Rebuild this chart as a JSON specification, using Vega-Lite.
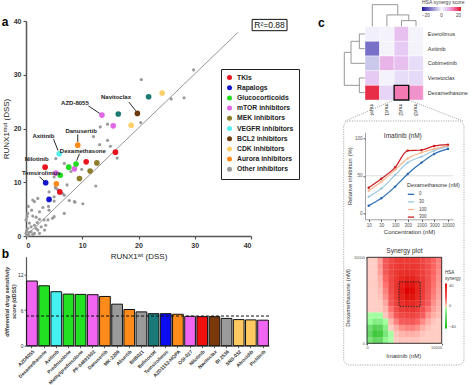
{
"$schema": "https://vega.github.io/schema/vega-lite/v6.json",
"background": "white",
"padding": {"left": 1, "top": 0, "right": 0, "bottom": 0},
"config": {"font": "Liberation Sans", "view": {"stroke": null}, "axis": {"grid": false}},
"datasets": {
"scatter": [
{"x":29.8,"y":30.9,"cls":"Other inhibitors"},{"x":20.5,"y":29.1,"cls":"Other inhibitors"},{"x":25.8,"y":25.5,"cls":"Other inhibitors"},{"x":28.1,"y":25.7,"cls":"Other inhibitors"},{"x":13.2,"y":20.3,"cls":"Other inhibitors"},{"x":14.5,"y":20.8,"cls":"Other inhibitors"},{"x":20.4,"y":21.1,"cls":"Other inhibitors"},{"x":12.0,"y":18.5,"cls":"Other inhibitors"},{"x":14.5,"y":17.8,"cls":"Other inhibitors"},{"x":13.1,"y":17.0,"cls":"Other inhibitors"},{"x":15.0,"y":16.7,"cls":"Other inhibitors"},{"x":16.2,"y":14.5,"cls":"Other inhibitors"},{"x":5.3,"y":14.4,"cls":"Other inhibitors"},{"x":9.9,"y":12.4,"cls":"Other inhibitors"},{"x":6.8,"y":13.5,"cls":"Other inhibitors"},{"x":8.0,"y":12.0,"cls":"Other inhibitors"},{"x":12.4,"y":9.3,"cls":"Other inhibitors"},{"x":5.0,"y":11.0,"cls":"Other inhibitors"},{"x":5.3,"y":8.9,"cls":"Other inhibitors"},{"x":4.1,"y":8.2,"cls":"Other inhibitors"},{"x":5.0,"y":7.3,"cls":"Other inhibitors"},{"x":6.8,"y":7.6,"cls":"Other inhibitors"},{"x":7.7,"y":6.6,"cls":"Other inhibitors"},{"x":8.6,"y":6.4,"cls":"Other inhibitors"},{"x":10.1,"y":6.0,"cls":"Other inhibitors"},{"x":6.8,"y":4.2,"cls":"Other inhibitors"},{"x":3.0,"y":5.3,"cls":"Other inhibitors"},{"x":2.1,"y":7.0,"cls":"Other inhibitors"},{"x":1.2,"y":6.7,"cls":"Other inhibitors"},{"x":1.5,"y":6.4,"cls":"Other inhibitors"},{"x":2.4,"y":4.5,"cls":"Other inhibitors"},{"x":4.1,"y":4.8,"cls":"Other inhibitors"},{"x":4.7,"y":3.3,"cls":"Other inhibitors"},{"x":3.9,"y":3.0,"cls":"Other inhibitors"},{"x":1.8,"y":3.5,"cls":"Other inhibitors"},{"x":2.4,"y":3.1,"cls":"Other inhibitors"},{"x":1.2,"y":3.7,"cls":"Other inhibitors"},{"x":0.6,"y":2.4,"cls":"Other inhibitors"},{"x":0.9,"y":1.7,"cls":"Other inhibitors"},{"x":0.3,"y":1.4,"cls":"Other inhibitors"},{"x":1.5,"y":2.0,"cls":"Other inhibitors"},{"x":1.8,"y":1.4,"cls":"Other inhibitors"},{"x":2.1,"y":1.1,"cls":"Other inhibitors"},{"x":2.7,"y":1.7,"cls":"Other inhibitors"},{"x":0.0,"y":3.0,"cls":"Other inhibitors"},{"x":0.9,"y":0.8,"cls":"Other inhibitors"},{"x":2.4,"y":0.5,"cls":"Other inhibitors"},{"x":3.3,"y":1.1,"cls":"Other inhibitors"},{"x":0.3,"y":4.2,"cls":"Other inhibitors"},{"x":0.6,"y":0.7,"cls":"Other inhibitors"},{"x":1.5,"y":0.5,"cls":"Other inhibitors"},{"x":0.0,"y":0.5,"cls":"Other inhibitors"},{"x":0.5,"y":0.2,"cls":"Other inhibitors"},{"x":1.2,"y":0.3,"cls":"Other inhibitors"},{"x":0.2,"y":0.1,"cls":"Other inhibitors"},{"x":0.1,"y":0.9,"cls":"Other inhibitors"},{"x":3.5,"y":2.0,"cls":"Other inhibitors"},{"x":2.0,"y":2.5,"cls":"Other inhibitors"},{"x":1.0,"y":4.8,"cls":"Other inhibitors"},{"x":0.4,"y":5.5,"cls":"Other inhibitors"},{"x":0.2,"y":3.6,"cls":"Other inhibitors"},{"x":7.3,"y":9.5,"cls":"Other inhibitors"},{"x":5.2,"y":9.1,"cls":"Other inhibitors"},{"x":5.6,"y":8.7,"cls":"Other inhibitors"},{"x":6.5,"y":7.9,"cls":"Other inhibitors"},{"x":4.0,"y":5.5,"cls":"Other inhibitors"},{"x":5.0,"y":3.6,"cls":"Other inhibitors"},{"x":3.2,"y":3.0,"cls":"Other inhibitors"},{"x":5.0,"y":6.5,"cls":"Other inhibitors"},{"x":8.7,"y":6.3,"cls":"Other inhibitors"},
{"x":21.8,"y":25.9,"cls":"HDAC inhibitors"},{"x":16.4,"y":22.7,"cls":"HDAC inhibitors"},
{"x":24.2,"y":26.6,"cls":"CDK inhibitors"},{"x":18.7,"y":20.6,"cls":"CDK inhibitors"},
{"x":13.5,"y":22.5,"cls":"mTOR inhibitors"},{"x":15.5,"y":20.5,"cls":"mTOR inhibitors"},{"x":8.6,"y":12.5,"cls":"mTOR inhibitors"},{"x":5.3,"y":11.7,"cls":"mTOR inhibitors"},
{"x":19.8,"y":22.8,"cls":"BCL2 inhibitors"},
{"x":9.2,"y":16.9,"cls":"Aurora inhibitors"},{"x":5.4,"y":9.7,"cls":"Aurora inhibitors"},
{"x":5.9,"y":15.3,"cls":"VEGFR inhibitors"},
{"x":15.9,"y":15.6,"cls":"TKIs"},{"x":3.4,"y":12.8,"cls":"TKIs"},{"x":10.7,"y":13.8,"cls":"TKIs"},{"x":6.0,"y":8.2,"cls":"TKIs"},
{"x":8.9,"y":13.4,"cls":"Glucocorticoids"},{"x":7.6,"y":12.8,"cls":"Glucocorticoids"},{"x":6.1,"y":11.3,"cls":"Glucocorticoids"},
{"x":12.6,"y":13.6,"cls":"MEK inhibitors"},{"x":11.4,"y":12.1,"cls":"MEK inhibitors"},{"x":9.5,"y":10.7,"cls":"MEK inhibitors"},
{"x":3.5,"y":9.9,"cls":"Rapalogs"},{"x":4.1,"y":6.8,"cls":"Rapalogs"}
],
"labels": [
{"name":"Navitoclax","lx":16.0,"ly":25.9},{"name":"AZD-8055","lx":8.7,"ly":24.8},{"name":"Danusertib","lx":9.8,"ly":19.5},{"name":"Axitinib","lx":3.1,"ly":18.6},{"name":"Dexamethasone","lx":10.1,"ly":15.8},{"name":"Nilotinib","lx":1.9,"ly":14.4},{"name":"Temsirolimus","lx":2.7,"ly":11.7}
],
"leaders": [
{"x1":18.3,"y1":24.9,"x2":19.5,"y2":23.3},{"x1":11.1,"y1":24.2,"x2":13.1,"y2":22.8},{"x1":9.2,"y1":18.9,"x2":9.2,"y2":17.5},{"x1":4.9,"y1":18.0,"x2":5.7,"y2":15.9},{"x1":9.5,"y1":15.3,"x2":9.0,"y2":14.0},{"x1":2.4,"y1":11.0,"x2":3.25,"y2":10.2}
],
"bars": [
{"drug":"AZD8055","dDSS":10.9,"cls":"mTOR inhibitors"},{"drug":"Dexamethasone","dDSS":10.1,"cls":"Glucocorticoids"},{"drug":"Axitinib","dDSS":9.1,"cls":"VEGFR inhibitors"},{"drug":"Prednisolone","dDSS":8.7,"cls":"Glucocorticoids"},{"drug":"Methylprednisolone","dDSS":8.65,"cls":"Glucocorticoids"},{"drug":"PF-04691502","dDSS":8.6,"cls":"mTOR inhibitors"},{"drug":"Danusertib","dDSS":8.3,"cls":"Aurora inhibitors"},{"drug":"MK-2206","dDSS":7.0,"cls":"Other inhibitors"},{"drug":"Alisertib","dDSS":6.1,"cls":"Aurora inhibitors"},{"drug":"BIIB021","dDSS":5.7,"cls":"Other inhibitors"},{"drug":"Belinostat","dDSS":5.4,"cls":"HDAC inhibitors"},{"drug":"Temsirolimus","dDSS":5.4,"cls":"Rapalogs"},{"drug":"AZD1152-HQPA","dDSS":5.3,"cls":"Aurora inhibitors"},{"drug":"OSI-027","dDSS":4.95,"cls":"mTOR inhibitors"},{"drug":"Nilotinib","dDSS":4.9,"cls":"TKIs"},{"drug":"Navitoclax","dDSS":4.9,"cls":"BCL2 inhibitors"},{"drug":"BI 2536","dDSS":4.6,"cls":"Other inhibitors"},{"drug":"SNS-032","dDSS":4.4,"cls":"CDK inhibitors"},{"drug":"Alvocidib","dDSS":4.35,"cls":"CDK inhibitors"},{"drug":"Pictilisib","dDSS":4.3,"cls":"mTOR inhibitors"}
],
"heat": [
{"mut":"mut4","drug":"Everolimus","hsa":1},{"mut":"mut1","drug":"Everolimus","hsa":0.5},{"mut":"mut2","drug":"Everolimus","hsa":6},{"mut":"mut3","drug":"Everolimus","hsa":0.5},
{"mut":"mut4","drug":"Axitinib","hsa":-12},{"mut":"mut1","drug":"Axitinib","hsa":0.5},{"mut":"mut2","drug":"Axitinib","hsa":5},{"mut":"mut3","drug":"Axitinib","hsa":0.5},
{"mut":"mut4","drug":"Cobimetinib","hsa":-4},{"mut":"mut1","drug":"Cobimetinib","hsa":7},{"mut":"mut2","drug":"Cobimetinib","hsa":6},{"mut":"mut3","drug":"Cobimetinib","hsa":3},
{"mut":"mut4","drug":"Venetoclax","hsa":5},{"mut":"mut1","drug":"Venetoclax","hsa":0.5},{"mut":"mut2","drug":"Venetoclax","hsa":3},{"mut":"mut3","drug":"Venetoclax","hsa":3.5},
{"mut":"mut4","drug":"Dexamethasone","hsa":18},{"mut":"mut1","drug":"Dexamethasone","hsa":4},{"mut":"mut2","drug":"Dexamethasone","hsa":12},{"mut":"mut3","drug":"Dexamethasone","hsa":10}
],
"dendro": [
{"x":2.5,"y":0,"x2":2.5,"y2":-0.41},{"x":3.5,"y":0,"x2":3.5,"y2":-0.41},{"x":2.5,"y":-0.41,"x2":3.5,"y2":-0.41},
{"x":1.5,"y":0,"x2":1.5,"y2":-0.8},{"x":3.0,"y":-0.41,"x2":3.0,"y2":-0.8},{"x":1.5,"y":-0.8,"x2":3.0,"y2":-0.8},
{"x":0.5,"y":0,"x2":0.5,"y2":-1.5},{"x":2.25,"y":-0.8,"x2":2.25,"y2":-1.5},{"x":0.5,"y":-1.5,"x2":2.25,"y2":-1.5},
{"x":-0.39,"y":0.5,"x2":-0.39,"y2":1.5},{"x":-0.39,"y":0.5,"x2":0,"y2":0.5},{"x":-0.39,"y":1.5,"x2":0,"y2":1.5},
{"x":-0.96,"y":1.0,"x2":-0.96,"y2":2.5},{"x":-0.96,"y":1.0,"x2":-0.39,"y2":1.0},{"x":-0.96,"y":2.5,"x2":0,"y2":2.5},
{"x":-0.39,"y":3.5,"x2":-0.39,"y2":4.5},{"x":-0.39,"y":3.5,"x2":0,"y2":3.5},{"x":-0.39,"y":4.5,"x2":0,"y2":4.5},
{"x":-1.42,"y":1.75,"x2":-1.42,"y2":4.0},{"x":-1.42,"y":1.75,"x2":-0.96,"y2":1.75},{"x":-1.42,"y":4.0,"x2":-0.39,"y2":4.0}
],
"zoomlines": [
{"x":2,"y":5,"x2":-1.42,"y2":6.46},{"x":3,"y":5,"x2":6.79,"y2":6.46}
],
"curves": [
{"conc":10,"inh":10.2,"dex":"0"},{"conc":30,"inh":20,"dex":"0"},{"conc":100,"inh":35.6,"dex":"0"},{"conc":300,"inh":52.4,"dex":"0"},{"conc":1000,"inh":67.6,"dex":"0"},{"conc":3000,"inh":79.1,"dex":"0"},{"conc":10000,"inh":85.8,"dex":"0"},
{"conc":10,"inh":22,"dex":"30"},{"conc":30,"inh":33,"dex":"30"},{"conc":100,"inh":51,"dex":"30"},{"conc":300,"inh":67.6,"dex":"30"},{"conc":1000,"inh":75.6,"dex":"30"},{"conc":3000,"inh":83.6,"dex":"30"},{"conc":10000,"inh":88.9,"dex":"30"},
{"conc":10,"inh":30,"dex":"100"},{"conc":30,"inh":42,"dex":"100"},{"conc":100,"inh":58,"dex":"100"},{"conc":300,"inh":73,"dex":"100"},{"conc":1000,"inh":81,"dex":"100"},{"conc":3000,"inh":86,"dex":"100"},{"conc":10000,"inh":90,"dex":"100"},
{"conc":10,"inh":34.2,"dex":"300"},{"conc":30,"inh":46.2,"dex":"300"},{"conc":100,"inh":61.3,"dex":"300"},{"conc":300,"inh":83.6,"dex":"300"},{"conc":1000,"inh":84.4,"dex":"300"},{"conc":3000,"inh":89.8,"dex":"300"},{"conc":10000,"inh":91.6,"dex":"300"}
],
"syn": [
{"cy":6.75,"cx":0.25,"v":0},{"cy":6.75,"cx":0.75,"v":0},{"cy":6.75,"cx":1.25,"v":6},{"cy":6.75,"cx":1.75,"v":16},{"cy":6.75,"cx":2.25,"v":23},{"cy":6.75,"cx":2.75,"v":26},{"cy":6.75,"cx":3.25,"v":27},{"cy":6.75,"cx":3.75,"v":27},{"cy":6.75,"cx":4.25,"v":27},{"cy":6.75,"cx":4.75,"v":26},{"cy":6.75,"cx":5.25,"v":23},{"cy":6.75,"cx":5.75,"v":19},{"cy":6.75,"cx":6.25,"v":14},{"cy":6.75,"cx":6.75,"v":10},
{"cy":6.25,"cx":0.25,"v":0},{"cy":6.25,"cx":0.75,"v":0},{"cy":6.25,"cx":1.25,"v":7},{"cy":6.25,"cx":1.75,"v":17},{"cy":6.25,"cx":2.25,"v":24},{"cy":6.25,"cx":2.75,"v":27},{"cy":6.25,"cx":3.25,"v":29},{"cy":6.25,"cx":3.75,"v":29},{"cy":6.25,"cx":4.25,"v":29},{"cy":6.25,"cx":4.75,"v":28},{"cy":6.25,"cx":5.25,"v":25},{"cy":6.25,"cx":5.75,"v":20},{"cy":6.25,"cx":6.25,"v":14},{"cy":6.25,"cx":6.75,"v":10},
{"cy":5.75,"cx":0.25,"v":0},{"cy":5.75,"cx":0.75,"v":0},{"cy":5.75,"cx":1.25,"v":6},{"cy":5.75,"cx":1.75,"v":16},{"cy":5.75,"cx":2.25,"v":24},{"cy":5.75,"cx":2.75,"v":28},{"cy":5.75,"cx":3.25,"v":31},{"cy":5.75,"cx":3.75,"v":32},{"cy":5.75,"cx":4.25,"v":31},{"cy":5.75,"cx":4.75,"v":29},{"cy":5.75,"cx":5.25,"v":26},{"cy":5.75,"cx":5.75,"v":20},{"cy":5.75,"cx":6.25,"v":14},{"cy":5.75,"cx":6.75,"v":9},
{"cy":5.25,"cx":0.25,"v":0},{"cy":5.25,"cx":0.75,"v":0},{"cy":5.25,"cx":1.25,"v":4},{"cy":5.25,"cx":1.75,"v":14},{"cy":5.25,"cx":2.25,"v":23},{"cy":5.25,"cx":2.75,"v":29},{"cy":5.25,"cx":3.25,"v":33},{"cy":5.25,"cx":3.75,"v":35},{"cy":5.25,"cx":4.25,"v":34},{"cy":5.25,"cx":4.75,"v":31},{"cy":5.25,"cx":5.25,"v":27},{"cy":5.25,"cx":5.75,"v":20},{"cy":5.25,"cx":6.25,"v":13},{"cy":5.25,"cx":6.75,"v":8},
{"cy":4.75,"cx":0.25,"v":0},{"cy":4.75,"cx":0.75,"v":0},{"cy":4.75,"cx":1.25,"v":3},{"cy":4.75,"cx":1.75,"v":12},{"cy":4.75,"cx":2.25,"v":22},{"cy":4.75,"cx":2.75,"v":29},{"cy":4.75,"cx":3.25,"v":35},{"cy":4.75,"cx":3.75,"v":38},{"cy":4.75,"cx":4.25,"v":37},{"cy":4.75,"cx":4.75,"v":33},{"cy":4.75,"cx":5.25,"v":27},{"cy":4.75,"cx":5.75,"v":19},{"cy":4.75,"cx":6.25,"v":12},{"cy":4.75,"cx":6.75,"v":7},
{"cy":4.25,"cx":0.25,"v":0},{"cy":4.25,"cx":0.75,"v":0},{"cy":4.25,"cx":1.25,"v":2},{"cy":4.25,"cx":1.75,"v":10},{"cy":4.25,"cx":2.25,"v":21},{"cy":4.25,"cx":2.75,"v":29},{"cy":4.25,"cx":3.25,"v":36},{"cy":4.25,"cx":3.75,"v":40},{"cy":4.25,"cx":4.25,"v":39},{"cy":4.25,"cx":4.75,"v":34},{"cy":4.25,"cx":5.25,"v":27},{"cy":4.25,"cx":5.75,"v":18},{"cy":4.25,"cx":6.25,"v":11},{"cy":4.25,"cx":6.75,"v":6},
{"cy":3.75,"cx":0.25,"v":0},{"cy":3.75,"cx":0.75,"v":0},{"cy":3.75,"cx":1.25,"v":1},{"cy":3.75,"cx":1.75,"v":8},{"cy":3.75,"cx":2.25,"v":19},{"cy":3.75,"cx":2.75,"v":28},{"cy":3.75,"cx":3.25,"v":34},{"cy":3.75,"cx":3.75,"v":38},{"cy":3.75,"cx":4.25,"v":37},{"cy":3.75,"cx":4.75,"v":33},{"cy":3.75,"cx":5.25,"v":26},{"cy":3.75,"cx":5.75,"v":17},{"cy":3.75,"cx":6.25,"v":10},{"cy":3.75,"cx":6.75,"v":5},
{"cy":3.25,"cx":0.25,"v":0},{"cy":3.25,"cx":0.75,"v":0},{"cy":3.25,"cx":1.25,"v":0},{"cy":3.25,"cx":1.75,"v":5},{"cy":3.25,"cx":2.25,"v":16},{"cy":3.25,"cx":2.75,"v":25},{"cy":3.25,"cx":3.25,"v":31},{"cy":3.25,"cx":3.75,"v":34},{"cy":3.25,"cx":4.25,"v":33},{"cy":3.25,"cx":4.75,"v":30},{"cy":3.25,"cx":5.25,"v":23},{"cy":3.25,"cx":5.75,"v":15},{"cy":3.25,"cx":6.25,"v":8},{"cy":3.25,"cx":6.75,"v":4},
{"cy":2.75,"cx":0.25,"v":0},{"cy":2.75,"cx":0.75,"v":0},{"cy":2.75,"cx":1.25,"v":0},{"cy":2.75,"cx":1.75,"v":3},{"cy":2.75,"cx":2.25,"v":12},{"cy":2.75,"cx":2.75,"v":21},{"cy":2.75,"cx":3.25,"v":27},{"cy":2.75,"cx":3.75,"v":29},{"cy":2.75,"cx":4.25,"v":29},{"cy":2.75,"cx":4.75,"v":26},{"cy":2.75,"cx":5.25,"v":20},{"cy":2.75,"cx":5.75,"v":12},{"cy":2.75,"cx":6.25,"v":6},{"cy":2.75,"cx":6.75,"v":3},
{"cy":2.25,"cx":0.25,"v":-2},{"cy":2.25,"cx":0.75,"v":-3},{"cy":2.25,"cx":1.25,"v":-2},{"cy":2.25,"cx":1.75,"v":1},{"cy":2.25,"cx":2.25,"v":8},{"cy":2.25,"cx":2.75,"v":16},{"cy":2.25,"cx":3.25,"v":22},{"cy":2.25,"cx":3.75,"v":24},{"cy":2.25,"cx":4.25,"v":24},{"cy":2.25,"cx":4.75,"v":21},{"cy":2.25,"cx":5.25,"v":15},{"cy":2.25,"cx":5.75,"v":8},{"cy":2.25,"cx":6.25,"v":4},{"cy":2.25,"cx":6.75,"v":2},
{"cy":1.75,"cx":0.25,"v":-6},{"cy":1.75,"cx":0.75,"v":-11},{"cy":1.75,"cx":1.25,"v":-10},{"cy":1.75,"cx":1.75,"v":-3},{"cy":1.75,"cx":2.25,"v":3},{"cy":1.75,"cx":2.75,"v":10},{"cy":1.75,"cx":3.25,"v":15},{"cy":1.75,"cx":3.75,"v":17},{"cy":1.75,"cx":4.25,"v":17},{"cy":1.75,"cx":4.75,"v":14},{"cy":1.75,"cx":5.25,"v":9},{"cy":1.75,"cx":5.75,"v":4},{"cy":1.75,"cx":6.25,"v":1},{"cy":1.75,"cx":6.75,"v":0},
{"cy":1.25,"cx":0.25,"v":-15},{"cy":1.25,"cx":0.75,"v":-25},{"cy":1.25,"cx":1.25,"v":-23},{"cy":1.25,"cx":1.75,"v":-10},{"cy":1.25,"cx":2.25,"v":0},{"cy":1.25,"cx":2.75,"v":4},{"cy":1.25,"cx":3.25,"v":8},{"cy":1.25,"cx":3.75,"v":10},{"cy":1.25,"cx":4.25,"v":10},{"cy":1.25,"cx":4.75,"v":8},{"cy":1.25,"cx":5.25,"v":4},{"cy":1.25,"cx":5.75,"v":1},{"cy":1.25,"cx":6.25,"v":0},{"cy":1.25,"cx":6.75,"v":0},
{"cy":0.75,"cx":0.25,"v":-19},{"cy":0.75,"cx":0.75,"v":-31},{"cy":0.75,"cx":1.25,"v":-29},{"cy":0.75,"cx":1.75,"v":-13},{"cy":0.75,"cx":2.25,"v":-2},{"cy":0.75,"cx":2.75,"v":1},{"cy":0.75,"cx":3.25,"v":3},{"cy":0.75,"cx":3.75,"v":4},{"cy":0.75,"cx":4.25,"v":4},{"cy":0.75,"cx":4.75,"v":3},{"cy":0.75,"cx":5.25,"v":1},{"cy":0.75,"cx":5.75,"v":0},{"cy":0.75,"cx":6.25,"v":0},{"cy":0.75,"cx":6.75,"v":0},
{"cy":0.25,"cx":0.25,"v":-13},{"cy":0.25,"cx":0.75,"v":-21},{"cy":0.25,"cx":1.25,"v":-19},{"cy":0.25,"cx":1.75,"v":-8},{"cy":0.25,"cx":2.25,"v":-1},{"cy":0.25,"cx":2.75,"v":0},{"cy":0.25,"cx":3.25,"v":1},{"cy":0.25,"cx":3.75,"v":1},{"cy":0.25,"cx":4.25,"v":1},{"cy":0.25,"cx":4.75,"v":1},{"cy":0.25,"cx":5.25,"v":0},{"cy":0.25,"cx":5.75,"v":0},{"cy":0.25,"cx":6.25,"v":0},{"cy":0.25,"cx":6.75,"v":0}
]
},
"hconcat": [
{
"vconcat": [
{
"width": 225, "height": 215,
"layer": [
{"data": {"values": [{}]}, "mark": {"type": "rule", "color": "#8a8a8a", "strokeWidth": 0.9}, "encoding": {"x": {"datum": 0, "type": "quantitative", "scale": {"domain": [0, 40], "nice": false}}, "y": {"datum": 0, "type": "quantitative", "scale": {"domain": [0, 40], "nice": false}}, "x2": {"datum": 37.7}, "y2": {"datum": 37.9}}},
{"data": {"name": "scatter"}, "transform": [{"filter": "datum.cls === 'Other inhibitors'"}], "mark": {"type": "point", "filled": true, "size": 10, "opacity": 1},
 "encoding": {
  "x": {"field": "x", "type": "quantitative", "scale": {"domain": [0, 40], "nice": false}, "axis": {"values": [0, 10, 20, 30, 40], "title": "RUNX1ʷᵗ (DSS)", "titleFontSize": 8, "titleFontWeight": "normal", "titleColor": "#222", "titlePadding": 4, "labelFontSize": 7, "labelFontWeight": "bold", "labelColor": "#333", "domainColor": "#555", "domainWidth": 1.5, "tickColor": "#555", "tickSize": 3, "tickWidth": 1.2}},
  "y": {"field": "y", "type": "quantitative", "scale": {"domain": [0, 40], "nice": false}, "axis": {"values": [0, 10, 20, 30, 40], "title": "RUNX1ᵐᵘᵗ (DSS)", "titleFontSize": 8, "titleFontWeight": "normal", "titleColor": "#222", "titlePadding": 3, "labelFontSize": 7, "labelFontWeight": "bold", "labelColor": "#333", "domainColor": "#555", "domainWidth": 1.5, "tickColor": "#555", "tickSize": 3, "tickWidth": 1.2}},
  "color": {"field": "cls", "type": "nominal",
   "scale": {"domain": ["TKIs", "Rapalogs", "Glucocorticoids", "mTOR inhibitors", "MEK inhibitors", "VEGFR inhibitors", "BCL2 inhibitors", "CDK inhibitors", "Aurora inhibitors", "Other inhibitors", "HDAC inhibitors"],
    "range": ["#e8131f", "#1515d0", "#22dd22", "#e066e6", "#8b7d2a", "#55eeee", "#6b3a10", "#ffcf6a", "#ff8c1a", "#9a9a9a", "#1a7a70"]},
   "legend": {"title": null, "orient": "none", "legendX": 195, "legendY": 48, "values": ["TKIs", "Rapalogs", "Glucocorticoids", "mTOR inhibitors", "MEK inhibitors", "VEGFR inhibitors", "BCL2 inhibitors", "CDK inhibitors", "Aurora inhibitors", "Other inhibitors"], "labelFontSize": 6.8, "labelFontWeight": "bold", "labelColor": "#222", "symbolSize": 25, "symbolType": "circle", "rowPadding": 2.2, "strokeColor": "#222", "padding": 5, "labelOffset": 4, "labelLimit": 200}}
 }},
{"data": {"name": "scatter"}, "transform": [{"filter": "datum.cls !== 'Other inhibitors'"}], "mark": {"type": "point", "filled": true, "size": 32, "opacity": 1},
 "encoding": {"x": {"field": "x", "type": "quantitative", "scale": {"domain": [0, 40], "nice": false}}, "y": {"field": "y", "type": "quantitative", "scale": {"domain": [0, 40], "nice": false}}, "color": {"field": "cls", "type": "nominal"}}},
{"data": {"name": "leaders"}, "mark": {"type": "rule", "color": "#111", "strokeWidth": 0.9}, "encoding": {"x": {"field": "x1", "type": "quantitative", "scale": {"domain": [0, 40], "nice": false}}, "y": {"field": "y1", "type": "quantitative", "scale": {"domain": [0, 40], "nice": false}}, "x2": {"field": "x2"}, "y2": {"field": "y2"}}},
{"data": {"name": "labels"}, "mark": {"type": "text", "fontSize": 6, "fontWeight": "bold", "color": "#222"}, "encoding": {"x": {"field": "lx", "type": "quantitative", "scale": {"domain": [0, 40], "nice": false}}, "y": {"field": "ly", "type": "quantitative", "scale": {"domain": [0, 40], "nice": false}}, "text": {"field": "name"}}},
{"data": {"values": [{}]}, "mark": {"type": "rect", "fillOpacity": 0, "stroke": "#111", "strokeWidth": 1}, "encoding": {"x": {"datum": 40.2, "type": "quantitative", "scale": {"domain": [0, 40], "nice": false}}, "x2": {"datum": 46.4}, "y": {"datum": 40.3, "type": "quantitative", "scale": {"domain": [0, 40], "nice": false}}, "y2": {"datum": 38.2}}},
{"data": {"values": [{}]}, "mark": {"type": "text", "fontSize": 8.5, "text": "R²=0.88", "color": "#111"}, "encoding": {"x": {"datum": 43.3, "type": "quantitative", "scale": {"domain": [0, 40], "nice": false}}, "y": {"datum": 39.25, "type": "quantitative", "scale": {"domain": [0, 40], "nice": false}}}},
{"data": {"values": [{}]}, "mark": {"type": "text", "fontSize": 12, "fontWeight": "bold", "text": "a", "align": "left", "baseline": "middle"}, "encoding": {"x": {"datum": -4.3, "type": "quantitative", "scale": {"domain": [0, 40], "nice": false}}, "y": {"datum": 39.8, "type": "quantitative", "scale": {"domain": [0, 40], "nice": false}}}},
{"data": {"values": [{}]}, "mark": {"type": "text", "fontSize": 12, "fontWeight": "bold", "text": "b", "align": "left", "baseline": "middle"}, "encoding": {"x": {"datum": -4.3, "type": "quantitative", "scale": {"domain": [0, 40], "nice": false}}, "y": {"datum": -3.4, "type": "quantitative", "scale": {"domain": [0, 40], "nice": false}}}}
]
},
{
"width": 243, "height": 89,
"layer": [
{"data": {"name": "bars"}, "mark": {"type": "bar", "stroke": "#111", "strokeWidth": 1},
 "encoding": {
  "x": {"field": "drug", "type": "nominal", "sort": null, "scale": {"paddingInner": 0.12, "paddingOuter": 0.05}, "axis": {"title": null, "labelAngle": -45, "labelFontSize": 4.9, "labelFontWeight": "bold", "labelColor": "#333", "tickSize": 2, "tickColor": "#555", "domainColor": "#555", "domainWidth": 1.2, "labelPadding": 1}},
  "y": {"field": "dDSS", "type": "quantitative", "scale": {"domain": [0, 15], "nice": false}, "axis": {"values": [0, 3, 6, 9, 12, 15], "labelOverlap": false, "labelFlush": false, "title": ["differential drug sensitivity", "score (dDSS)"], "titleFontSize": 5.5, "titleLineHeight": 6.5, "titleFontStyle": "italic", "titleFontWeight": "bold", "titleColor": "#333", "titlePadding": 1, "labelFontSize": 5, "labelColor": "#333", "labelPadding": 1, "tickSize": 2, "tickColor": "#555", "domainColor": "#555", "domainWidth": 1.2}},
  "fill": {"field": "cls", "type": "nominal", "scale": {"domain": ["TKIs", "Rapalogs", "Glucocorticoids", "mTOR inhibitors", "MEK inhibitors", "VEGFR inhibitors", "BCL2 inhibitors", "CDK inhibitors", "Aurora inhibitors", "Other inhibitors", "HDAC inhibitors"], "range": ["#f01010", "#0c0cf0", "#22e022", "#f066f0", "#8b7d2a", "#44f0f0", "#7a3a0a", "#ffc860", "#ff8c1a", "#9a9a9a", "#1a7a7a"]}, "legend": null}
 }},
{"data": {"values": [{}]}, "mark": {"type": "rule", "strokeDash": [3, 2], "color": "#111", "strokeWidth": 1}, "encoding": {"y": {"datum": 5, "type": "quantitative", "scale": {"domain": [0, 15], "nice": false}}}}
]
}
],
"spacing": 20.7, "bounds": "flush",
"resolve": {"scale": {"color": "independent", "fill": "independent", "x": "independent", "y": "independent"}, "legend": {"color": "independent", "fill": "independent"}}
},
{
"vconcat": [
{
"width": 58.3, "height": 79,
"layer": [
{"layer": [
{"data": {"name": "dendro"}, "mark": {"type": "rule", "color": "#8c8c8c", "strokeWidth": 0.9},
 "encoding": {"x": {"field": "x", "type": "quantitative", "scale": {"domain": [0, 4], "nice": false, "zero": false}, "axis": null}, "y": {"field": "y", "type": "quantitative", "scale": {"domain": [-0.385, 5], "nice": false, "zero": false, "reverse": true}, "axis": null}, "x2": {"field": "x2"}, "y2": {"field": "y2"}}},
{"data": {"name": "zoomlines"}, "mark": {"type": "rule", "color": "#888", "strokeWidth": 0.8, "strokeDash": [1, 1.2]},
 "encoding": {"x": {"field": "x", "type": "quantitative", "scale": {"domain": [0, 4], "nice": false, "zero": false}, "axis": null}, "y": {"field": "y", "type": "quantitative", "scale": {"domain": [-0.385, 5], "nice": false, "zero": false, "reverse": true}, "axis": null}, "x2": {"field": "x2"}, "y2": {"field": "y2"}}},
{"data": {"values": [{}]}, "mark": {"type": "text", "fontSize": 12, "fontWeight": "bold", "text": "c"}, "encoding": {"x": {"datum": -3.0, "type": "quantitative", "scale": {"domain": [0, 4], "nice": false, "zero": false}, "axis": null}, "y": {"datum": -0.22, "type": "quantitative", "scale": {"domain": [-0.385, 5], "nice": false, "zero": false, "reverse": true}, "axis": null}}}
]},
{"layer": [
{"data": {"name": "heat"}, "mark": {"type": "rect", "stroke": "white", "strokeWidth": 0.4},
 "encoding": {
  "x": {"field": "mut", "type": "nominal", "sort": ["mut4", "mut1", "mut2", "mut3"], "scale": {"paddingInner": 0, "paddingOuter": 0}, "axis": {"orient": "bottom", "title": null, "labelAngle": 90, "labelFontSize": 5.5, "labelColor": "#333", "ticks": false, "domain": false, "labelPadding": 3}},
  "y": {"field": "drug", "type": "nominal", "sort": ["Everolimus", "Axitinib", "Cobimetinib", "Venetoclax", "Dexamethasone"], "scale": {"paddingInner": 0, "paddingOuter": 0.1925, "align": 1}, "axis": {"orient": "right", "title": null, "labelFontSize": 5.5, "labelColor": "#333", "ticks": false, "domain": false, "labelPadding": 4}},
  "fill": {"field": "hsa", "type": "quantitative", "scale": {"domain": [-20, 0, 20], "range": ["#1a1a9c", "#f7f7fb", "#d7191c"]},
   "legend": {"orient": "none", "legendX": 57, "legendY": -21, "direction": "horizontal", "title": "HSA synergy score", "titleFontSize": 5, "titleFontWeight": "normal", "titleColor": "#444", "labelFontSize": 4.5, "labelColor": "#444", "gradientLength": 39, "gradientThickness": 4, "values": [-20, -10, 0, 10, 20], "titlePadding": 2}}
 }},
{"data": {"name": "heat"}, "transform": [{"filter": "datum.mut === 'mut2' && datum.drug === 'Dexamethasone'"}], "mark": {"type": "rect", "fillOpacity": 0, "stroke": "#111", "strokeWidth": 1.4},
 "encoding": {"x": {"field": "mut", "type": "nominal", "sort": ["mut4", "mut1", "mut2", "mut3"]}, "y": {"field": "drug", "type": "nominal", "sort": ["Everolimus", "Axitinib", "Cobimetinib", "Venetoclax", "Dexamethasone"]}}}
]}
],
"resolve": {"scale": {"x": "independent", "y": "independent"}, "axis": {"x": "independent", "y": "independent"}}
},
{
"width": 88, "height": 87,
"layer": [
{"data": {"values": [{}]}, "mark": {"type": "rect", "fillOpacity": 0, "stroke": "#999", "strokeWidth": 0.8, "strokeDash": [1.2, 1.2], "cornerRadius": 6}, "encoding": {"x": {"datum": 1.13, "type": "quantitative", "scale": {"type": "log", "domain": [7.24, 15500], "nice": false}}, "x2": {"datum": 40360}, "y": {"datum": 123.1, "type": "quantitative", "scale": {"domain": [-8, 108], "nice": false, "zero": false}}, "y2": {"datum": -202.3}}},
{"data": {"values": [{}]}, "mark": {"type": "rule", "color": "#c8c8c8", "strokeWidth": 0.6}, "encoding": {"y": {"datum": 50, "type": "quantitative", "scale": {"domain": [-8, 108], "nice": false, "zero": false}}}},
{"data": {"name": "curves"}, "mark": {"type": "line", "interpolate": "monotone", "strokeWidth": 1.2},
 "encoding": {
  "x": {"field": "conc", "type": "quantitative", "scale": {"type": "log", "domain": [7.24, 15500], "nice": false}, "axis": {"values": [10, 30, 100, 300, 1000, 3000, 10000], "format": "d", "title": "Concentration (nM)", "titleFontSize": 6, "titleFontWeight": "normal", "titleColor": "#333", "titlePadding": 2, "labelFontSize": 4.5, "labelColor": "#555", "tickSize": 2, "tickColor": "#555", "domainColor": "#666", "domainWidth": 0.6, "labelPadding": 1}},
  "y": {"field": "inh", "type": "quantitative", "scale": {"domain": [-8, 108], "nice": false, "zero": false}, "axis": {"values": [0, 25, 50, 75, 100], "title": "Relative inhibition (%)", "titleFontSize": 6, "titleFontWeight": "normal", "titleColor": "#333", "titlePadding": 2, "labelFontSize": 4.5, "labelColor": "#555", "tickSize": 2, "tickColor": "#555", "domainColor": "#666", "domainWidth": 0.6, "labelPadding": 1}},
  "color": {"field": "dex", "type": "nominal", "sort": ["0", "30", "100", "300"], "scale": {"domain": ["0", "30", "100", "300"], "range": ["#2b6cb0", "#9cc9e0", "#f6b58e", "#c81d25"]},
   "legend": {"orient": "none", "legendX": 42, "legendY": 50.5, "title": "Dexamethasone (nM)", "titleFontSize": 5.5, "titleFontWeight": "normal", "titleColor": "#333", "labelFontSize": 4.5, "labelColor": "#444", "symbolType": "stroke", "symbolStrokeWidth": 1.3, "symbolSize": 40, "rowPadding": 0.6, "titlePadding": 2}}
 }},
{"data": {"name": "curves"}, "mark": {"type": "point", "filled": true, "size": 6, "opacity": 1}, "encoding": {"x": {"field": "conc", "type": "quantitative", "scale": {"type": "log", "domain": [7.24, 15500], "nice": false}}, "y": {"field": "inh", "type": "quantitative", "scale": {"domain": [-8, 108], "nice": false, "zero": false}}, "color": {"field": "dex", "type": "nominal"}}},
{"data": {"values": [{}]}, "mark": {"type": "text", "fontSize": 6.5, "text": "Imatinib (nM)", "color": "#333"}, "encoding": {"x": {"datum": 195, "type": "quantitative", "scale": {"type": "log", "domain": [7.24, 15500], "nice": false}}, "y": {"datum": 103.7, "type": "quantitative", "scale": {"domain": [-8, 108], "nice": false, "zero": false}}}}
]
},
{
"width": 76.7, "height": 91.7,
"layer": [
{"data": {"name": "syn"}, "mark": {"type": "rect", "width": 5.6, "height": 6.4},
 "encoding": {
  "x": {"field": "cx", "type": "quantitative", "scale": {"domain": [-0.19, 7], "nice": false, "zero": false}, "axis": {"values": [0, 1, 2, 3, 4, 5, 6, 7], "labelExpr": "['0','10','30','100','300','1000','3000','10000'][datum.value]", "title": "Imatinib (nM)", "titleFontSize": 6, "titleFontWeight": "normal", "titleColor": "#333", "titlePadding": 3, "labelFontSize": 4, "labelColor": "#555", "tickSize": 1.5, "tickColor": "#555", "domain": false, "labelPadding": 1}},
  "y": {"field": "cy", "type": "quantitative", "scale": {"domain": [0, 7.464], "nice": false, "zero": false}, "axis": {"values": [0, 1, 2, 3, 4, 5, 6, 7], "labelExpr": "['0','10','30','100','300','1000','3000','10000'][datum.value]", "title": "Dexamethasone (nM)", "titleFontSize": 6, "titleFontWeight": "normal", "titleColor": "#333", "titlePadding": 3, "labelFontSize": 4, "labelColor": "#555", "tickSize": 1.5, "tickColor": "#555", "domain": false, "labelPadding": 1, "offset": -2}},
  "fill": {"field": "v", "type": "quantitative", "scale": {"domain": [-40, -15, 0, 15, 40], "range": ["#00bd00", "#74dc74", "#ffffff", "#f45c5c", "#de0000"]},
   "legend": {"orient": "none", "legendX": 80, "legendY": 18, "direction": "vertical", "title": ["HSA", "synergy"], "titleFontSize": 4.5, "titleFontWeight": "normal", "titleColor": "#333", "labelFontSize": 4, "labelColor": "#444", "gradientLength": 45, "gradientThickness": 2, "values": [-40, 0, 40], "titlePadding": 3}}
 }},
{"data": {"values": [{}]}, "mark": {"type": "rect", "fillOpacity": 0, "stroke": "#222", "strokeWidth": 0.9}, "encoding": {"x": {"datum": 0, "type": "quantitative", "scale": {"domain": [-0.19, 7], "nice": false, "zero": false}}, "x2": {"datum": 7}, "y": {"datum": 0, "type": "quantitative", "scale": {"domain": [0, 7.464], "nice": false, "zero": false}}, "y2": {"datum": 7}}},
{"data": {"values": [{}]}, "mark": {"type": "rect", "fillOpacity": 0, "stroke": "#222", "strokeWidth": 0.9, "strokeDash": [1.5, 1.2]}, "encoding": {"x": {"datum": 3, "type": "quantitative", "scale": {"domain": [-0.19, 7], "nice": false, "zero": false}}, "x2": {"datum": 5}, "y": {"datum": 3, "type": "quantitative", "scale": {"domain": [0, 7.464], "nice": false, "zero": false}}, "y2": {"datum": 5}}},
{"data": {"values": [{}]}, "mark": {"type": "text", "fontSize": 6.5, "text": "Synergy plot", "color": "#333"}, "encoding": {"x": {"datum": 3.5, "type": "quantitative", "scale": {"domain": [-0.19, 7], "nice": false, "zero": false}}, "y": {"datum": 7.54, "type": "quantitative", "scale": {"domain": [0, 7.464], "nice": false, "zero": false}}}}
]
}
],
"spacing": 32.3, "bounds": "flush",
"resolve": {"scale": {"color": "independent", "fill": "independent", "x": "independent", "y": "independent"}, "legend": {"color": "independent", "fill": "independent"}}
}
],
"spacing": 339, "bounds": "flush",
"resolve": {"scale": {"color": "independent", "fill": "independent", "x": "independent", "y": "independent"}, "legend": {"color": "independent", "fill": "independent"}}
}
